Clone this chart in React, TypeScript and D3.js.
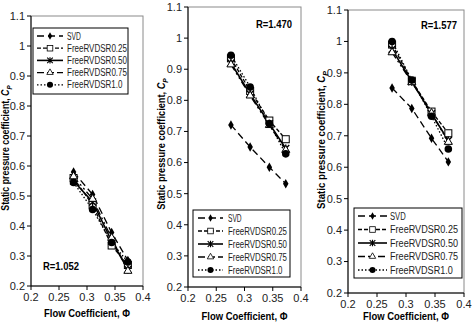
import React from "react";
import * as d3 from "d3";

const phi = [0.276, 0.31, 0.344, 0.373];
const seriesNames = ["SVD", "FreeRVDSR0.25", "FreeRVDSR0.50", "FreeRVDSR0.75", "FreeRVDSR1.0"];
const cpR1052 = [
  [0.58, 0.505, 0.378, 0.285],
  [0.56, 0.47, 0.335, 0.27],
  [0.55, 0.48, 0.35, 0.255],
  [0.565, 0.49, 0.36, 0.25],
  [0.545, 0.455, 0.345, 0.28],
];
const cpR1470 = [
  [0.721, 0.65, 0.585, 0.532],
  [0.935, 0.83, 0.735, 0.675],
  [0.92, 0.82, 0.725, 0.645],
  [0.915, 0.815, 0.72, 0.64],
  [0.945, 0.843, 0.725, 0.628],
];
const cpR1577 = [
  [0.852, 0.787, 0.692, 0.617],
  [0.99, 0.875, 0.777, 0.708],
  [0.975, 0.872, 0.77, 0.685],
  [0.965, 0.87, 0.772, 0.68],
  [1.0, 0.877, 0.762, 0.658],
];
const rLabels = ["R=1.052", "R=1.470", "R=1.577"];
const xTicks = [0.2, 0.25, 0.3, 0.35, 0.4];
const yTicks = [0.2, 0.3, 0.4, 0.5, 0.6, 0.7, 0.8, 0.9, 1, 1.1];

const dashes = ["7,4", "4,2", "", "7,3,2,3,2,3", "1.5,2"];

const panels = [
  { data: cpR1052, x0: 31, x1: 143, y0: 286, y1: 16, ytX: 9, ytY: 148, ytScale: 0.8,
    leg: { x: 33, y: 28, w: 95, h: 66, dy: 12.2, lx0: 37, lx1: 63, tx: 67, tw: 60 },
    r: { x: 43, y: 270, anchor: "start" }, xtY: 317 },
  { data: cpR1470, x0: 188, x1: 301, y0: 287, y1: 7, ytX: 165, ytY: 144, ytScale: 0.84,
    leg: { x: 193, y: 210, w: 97, h: 67, dy: 13, lx0: 198, lx1: 223, tx: 228, tw: 59 },
    r: { x: 292, y: 28, anchor: "end" }, xtY: 320 },
  { data: cpR1577, x0: 348, x1: 464, y0: 293, y1: 10, ytX: 325, ytY: 140, ytScale: 0.88,
    leg: { x: 354, y: 208, w: 108, h: 70, dy: 13.5, lx0: 358, lx1: 387, tx: 390, tw: 68 },
    r: { x: 457, y: 29, anchor: "end" }, xtY: 320 },
];

function Marker({ i, x, y, k = 1 }: { i: number; x: number; y: number; k?: number }) {
  const t = `translate(${x},${y}) scale(${k})`;
  if (i === 0) return <path transform={t} d={d3.symbol(d3.symbolDiamond, 26)()!} fill="#000" />;
  if (i === 1) return <rect transform={t} x={-3.5} y={-3.5} width={7} height={7} fill="#fff" stroke="#000" strokeWidth={1} />;
  if (i === 2)
    return (
      <path transform={t} d="M-3.5,-3.5L3.5,3.5M-3.5,3.5L3.5,-3.5M0,-4L0,4" stroke="#000" strokeWidth={1.4} fill="none" />
    );
  if (i === 3) return <path transform={t} d={d3.symbol(d3.symbolTriangle, 28)()!} fill="#fff" stroke="#000" strokeWidth={1} />;
  return <circle transform={t} cx={0} cy={0} r={3.8} fill="#000" />;
}

const font = "Liberation Sans, Arial, sans-serif";

function Panel({ p, idx }: { p: any; idx: number }) {
  const x = d3.scaleLinear().domain([0.2, 0.4]).range([p.x0, p.x1]);
  const y = d3.scaleLinear().domain([0.2, 1.1]).range([p.y0, p.y1]);
  const line = d3
    .line<number>()
    .x((_, j) => x(phi[j]))
    .y((v) => y(v));
  const L = p.leg;
  return (
    <g>
      <rect x={p.x0} y={p.y1} width={p.x1 - p.x0} height={p.y0 - p.y1} fill="#fff" stroke="#8a8a8a" strokeWidth={1} />
      <line x1={p.x0} x2={p.x0} y1={p.y1} y2={p.y0} stroke="#000" />
      <line x1={p.x0} x2={p.x1} y1={p.y0} y2={p.y0} stroke="#000" />
      {yTicks.map((t) => (
        <g key={"y" + t}>
          <line x1={p.x0 - 4} x2={p.x0} y1={y(t)} y2={y(t)} stroke="#000" />
          <text x={p.x0 - 6} y={y(t)} dy="0.35em" textAnchor="end" fontSize={11} fontFamily={font} fill="#222">
            {String(t)}
          </text>
        </g>
      ))}
      {xTicks.map((t) => (
        <g key={"x" + t}>
          <line x1={x(t)} x2={x(t)} y1={p.y0} y2={p.y0 + 4} stroke="#000" />
          <text x={x(t)} y={p.y0 + 15} textAnchor="middle" fontSize={11} fontFamily={font} fill="#222">
            {String(t)}
          </text>
        </g>
      ))}
      {p.data.map((s: number[], i: number) => (
        <path key={"l" + i} d={line(s)!} fill="none" stroke="#000" strokeWidth={i === 2 ? 1.6 : 1.3} strokeDasharray={dashes[i]} />
      ))}
      {p.data.map((s: number[], i: number) =>
        s.map((v, j) => <Marker key={`m${i}-${j}`} i={i} x={x(phi[j])} y={y(v)} />)
      )}
      <rect x={L.x} y={L.y} width={L.w} height={L.h} fill="#fff" stroke="#000" strokeWidth={1} />
      {seriesNames.map((n, i) => {
        const yy = L.y + 8 + i * L.dy;
        return (
          <g key={"g" + i}>
            <line x1={L.lx0} x2={L.lx1} y1={yy} y2={yy} stroke="#000" strokeWidth={i === 2 ? 1.6 : 1.3} strokeDasharray={dashes[i]} />
            <Marker i={i} x={(L.lx0 + L.lx1) / 2} y={yy} k={0.8} />
            <text
              x={L.tx}
              y={yy}
              dy="0.35em"
              fontSize={10}
              fontFamily={font}
              fill="#222"
              textLength={(L.tw * n.length) / 13}
              lengthAdjust="spacingAndGlyphs"
            >
              {n}
            </text>
          </g>
        );
      })}
      <text
        x={p.r.x}
        y={p.r.y}
        textAnchor={p.r.anchor}
        fontSize={10.5}
        fontWeight="bold"
        fontFamily={font}
        fill="#000"
        textLength={36}
        lengthAdjust="spacingAndGlyphs"
      >
        {rLabels[idx]}
      </text>
      <text
        x={(p.x0 + p.x1) / 2 - 43}
        y={p.xtY}
        fontSize={11}
        fontWeight="bold"
        fontFamily={font}
        fill="#000"
        textLength={86}
        lengthAdjust="spacingAndGlyphs"
      >
        Flow Coefficient,  Φ
      </text>
      <text
        transform={`translate(${p.ytX},${p.ytY}) rotate(-90) scale(${p.ytScale},1)`}
        textAnchor="middle"
        fontSize={11}
        fontWeight="bold"
        fontFamily={font}
        fill="#000"
      >
        Static pressure coefficient, <tspan fontStyle="italic">C</tspan>
        <tspan fontSize={8} dy="3" fontStyle="italic">P</tspan>
      </text>
    </g>
  );
}

export default function App() {
  return (
    <svg width={474} height={325} style={{ position: "absolute", left: 0, top: 0, background: "#fff" }}>
      <rect width={474} height={325} fill="#fff" />
      {panels.map((p, i) => (
        <Panel key={i} p={p} idx={i} />
      ))}
    </svg>
  );
}
